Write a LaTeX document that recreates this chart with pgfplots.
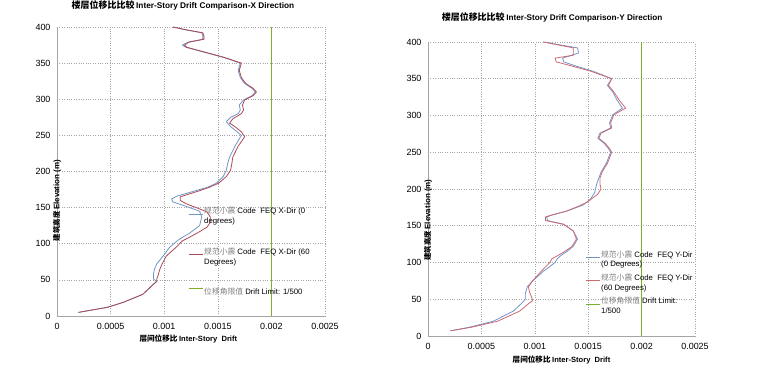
\documentclass[border=0pt]{standalone}
\usepackage{fontspec}
\setmainfont{Liberation Sans}
\newfontfamily\cjk{Noto Sans CJK SC}
\usepackage{pgfplots}
\usepackage{pgfplotstable}
\pgfplotsset{compat=1.18}
\definecolor{cblue}{RGB}{112,150,200}
\definecolor{cred}{RGB}{172,72,84}
\definecolor{cred2}{RGB}{205,105,115}
\definecolor{limitgreen}{RGB}{125,175,40}
\definecolor{cgrid}{RGB}{165,165,165}

% X direction, 0 degrees
\pgfplotstableread{
x y
0.00020 5
0.00047 12
0.00062 19
0.00080 30
0.00090 44
0.00093 48
0.00090 51
0.00090 58
0.00091 65
0.00093 72
0.00099 83
0.00105 95
0.00112 104
0.00115 107
0.00124 115
0.00133 125
0.00135 137
0.00133 145
0.00120 152
0.00108 158
0.00107 162
0.00112 166
0.00126 172
0.00140 178
0.00149 184
0.00155 193
0.00158 202
0.00159 210
0.00161 220
0.00166 235
0.00172 250
0.00168 255
0.00162 262
0.00158 269
0.00162 275
0.00169 280
0.00171 285
0.00170 292
0.00174 299
0.00182 305
0.00185 310
0.00182 315
0.00175 322
0.00171 330
0.00169 340
0.00170 345
0.00171 350
0.00155 358
0.00135 366
0.00120 372
0.00117 375
0.00122 379
0.00136 383
0.00136 388
0.00135 392
0.00120 396
0.00108 400
}\xzero
% X direction, 60 degrees
\pgfplotstableread{
x y
0.00020 5
0.00047 12
0.00062 19
0.00080 30
0.00090 44
0.00093 48
0.00093 51
0.00094 55
0.00095 60
0.00096 65
0.00098 72
0.00102 83
0.00111 95
0.00117 104
0.00121 107
0.00131 115
0.00140 123
0.00143 130
0.00143 137
0.00140 144
0.00130 150
0.00121 155
0.00115 160
0.00115 165
0.00130 172
0.00142 178
0.00151 184
0.00158 193
0.00162 202
0.00163 210
0.00164 220
0.00169 235
0.00175 248
0.00172 255
0.00166 262
0.00161 267
0.00164 273
0.00172 280
0.00174 285
0.00173 292
0.00175 299
0.00183 305
0.00186 310
0.00183 315
0.00176 322
0.00172 330
0.00170 340
0.00171 345
0.00172 350
0.00156 358
0.00136 366
0.00121 372
0.00119 375
0.00123 379
0.00137 383
0.00137 388
0.00136 392
0.00121 396
0.00108 400
}\xsixty
% Y direction, 0 degrees
\pgfplotstableread{
x y
0.00021 7
0.00039 12
0.00061 20
0.00080 34
0.00088 45
0.00091 50
0.00091 57
0.00092 62
0.00093 67
0.00098 75
0.00108 88
0.00119 100
0.00121 105
0.00124 109
0.00130 115
0.00136 122
0.00140 132
0.00136 143
0.00127 152
0.00112 157
0.00111 162
0.00117 165
0.00130 170
0.00145 178
0.00152 186
0.00156 195
0.00158 207
0.00160 215
0.00162 223
0.00167 235
0.00171 250
0.00169 255
0.00165 262
0.00159 269
0.00161 276
0.00171 283
0.00170 290
0.00173 301
0.00182 310
0.00177 321
0.00173 332
0.00168 341
0.00172 350
0.00155 360
0.00137 368
0.00127 373
0.00126 378
0.00141 385
0.00140 392
0.00108 400
}\yzero
% Y direction, 60 degrees
\pgfplotstableread{
x y
0.00021 7
0.00041 12
0.00065 20
0.00086 34
0.00095 45
0.00098 48
0.00097 53
0.00095 60
0.00094 67
0.00098 75
0.00106 88
0.00114 100
0.00116 105
0.00121 109
0.00128 115
0.00135 122
0.00139 132
0.00136 143
0.00127 152
0.00110 157
0.00110 162
0.00117 165
0.00130 170
0.00140 176
0.00149 182
0.00159 193
0.00162 200
0.00161 207
0.00161 215
0.00163 223
0.00168 235
0.00172 250
0.00170 255
0.00166 262
0.00160 269
0.00162 276
0.00172 283
0.00171 290
0.00174 301
0.00185 310
0.00179 321
0.00174 332
0.00169 341
0.00172 350
0.00153 360
0.00133 368
0.00120 373
0.00119 378
0.00136 382
0.00136 392
0.00108 400
}\ysixty

% drift limit 1/500
\pgfplotstableread{
x y
0.002 0
0.002 400
}\limitline

\pgfplotsset{
  drift/.style={
    scale only axis,
    xmin=0, xmax=0.0025, ymin=0, ymax=400,
    scaled x ticks=false,
    xtick={0,0.0005,0.001,0.0015,0.002,0.0025},
    xticklabels={0,0.0005,0.001,0.0015,0.002,0.0025},
    ytick={0,50,...,400},
    /pgf/number format/assume math mode=true,
    tick label style={font=\fontsize{9}{10}\selectfont},
    major tick length=0pt,
    grid=major,
    grid style={dotted, cgrid, line width=0.6pt},
    axis lines=left,
    axis line style={-, cgrid, line width=0.8pt},
    every outer x axis line/.append style={-},
    every outer y axis line/.append style={-},
    xticklabel style={yshift=-4bp},
    yticklabel style={xshift=-3bp},
    legend style={draw=none, fill=none, anchor=north west, inner sep=0pt,
      font=\fontsize{7.8}{10}\selectfont,
      nodes={inner xsep=1bp, inner ysep=0pt, text depth=, text height=},
      cells={anchor=base west}},
    legend image code/.code={\draw[##1] (0bp,2.8bp) -- (14bp,2.8bp);},
    legend cell align=left,
  }
}

\begin{document}
\begin{tikzpicture}
\path[use as bounding box] (0,0) rectangle (760bp,368bp);

\begin{axis}[drift,
  at={(57bp,52bp)}, anchor=south west,
  width=268bp, height=289bp,
  title={{\cjk\bfseries\fontsize{9}{10}\selectfont 楼层位移比比较}\,{\bfseries\fontsize{8.3}{10}\selectfont Inter-Story Drift Comparison-X Direction}},
  title style={at={(axis description cs:0.47,1)}, anchor=base, yshift=13bp, inner sep=0pt},
  xlabel={{\cjk\bfseries\fontsize{7.6}{9}\selectfont 层间位移比}\,{\bfseries\fontsize{7.6}{9}\selectfont Inter-Story\ \ Drift}},
  xlabel style={at={(axis description cs:0.49,0)}, anchor=base, yshift=-25bp, inner sep=0pt},
  ylabel={{\cjk\bfseries\fontsize{7.4}{9}\selectfont 建筑高度}\,{\bfseries\fontsize{8}{9}\selectfont Elevation (m)}},
  ylabel style={at={(axis description cs:0,0.5)}, anchor=center, xshift=-29bp, inner sep=0pt},
  legend style={at={(0.489,0.378)}, row sep=20.5bp},
]
\addplot[draw=cblue, line width=0.8pt] table[x=x,y=y] {\xzero};
\addlegendentry{\begin{tabular}[t]{@{}l@{}}{\cjk\color{gray}规范小震} Code\ \ FEQ X-Dir (0\\degrees)\end{tabular}}
\addplot[draw=cred, line width=0.8pt] table[x=x,y=y] {\xsixty};
\addlegendentry{\begin{tabular}[t]{@{}l@{}}{\cjk\color{gray}规范小震} Code\ \ FEQ X-Dir (60\\Degrees)\end{tabular}}
\addplot[draw=limitgreen, line width=1pt] table[x=x,y=y] {\limitline};
\addlegendentry{{\cjk\color{gray}位移角限值} Drift Limit: 1/500}
\end{axis}

\begin{axis}[drift,
  at={(428bp,32bp)}, anchor=south west,
  width=267bp, height=294bp,
  title={{\cjk\bfseries\fontsize{9}{10}\selectfont 楼层位移比比较}\,{\bfseries\fontsize{8.2}{10}\selectfont Inter-Story Drift Comparison-Y Direction}},
  title style={at={(axis description cs:0.465,1)}, anchor=base, yshift=16bp, inner sep=0pt},
  xlabel={{\cjk\bfseries\fontsize{7.6}{9}\selectfont 层间位移比}\,{\bfseries\fontsize{7.6}{9}\selectfont Inter-Story\ \ Drift}},
  xlabel style={at={(axis description cs:0.5,0)}, anchor=base, yshift=-26bp, inner sep=0pt},
  ylabel={{\cjk\bfseries\fontsize{7.4}{9}\selectfont 建筑高度}\,{\bfseries\fontsize{8}{9}\selectfont Elevation (m)}},
  ylabel style={at={(axis description cs:0,0.5)}, anchor=center, xshift=-31bp, inner sep=0pt},
  legend style={at={(0.588,0.293)}, row sep=3.5bp},
]
\addplot[draw=cblue, line width=0.8pt] table[x=x,y=y] {\yzero};
\addlegendentry{\begin{tabular}[t]{@{}l@{}}{\cjk\color{gray}规范小震} Code\ \ FEQ Y-Dir\\(0 Degrees)\end{tabular}}
\addplot[draw=cred2, line width=0.8pt] table[x=x,y=y] {\ysixty};
\addlegendentry{\begin{tabular}[t]{@{}l@{}}{\cjk\color{gray}规范小震} Code\ \ FEQ Y-Dir\\(60 Degrees)\end{tabular}}
\addplot[draw=limitgreen, line width=1pt] table[x=x,y=y] {\limitline};
\addlegendentry{\begin{tabular}[t]{@{}l@{}}{\cjk\color{gray}位移角限值} Drift Limit:\\1/500\end{tabular}}
\end{axis}
\end{tikzpicture}
\end{document}
